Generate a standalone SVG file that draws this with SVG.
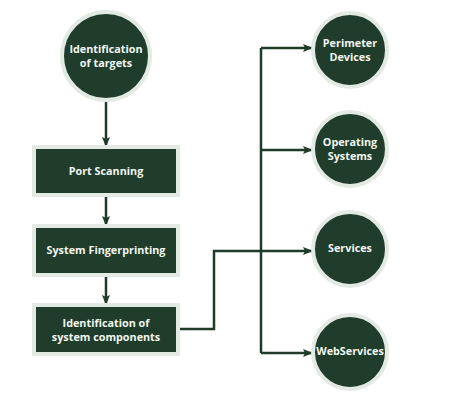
<svg xmlns="http://www.w3.org/2000/svg" width="474" height="403" viewBox="0 0 474 403">
<defs>
<marker id="ah" markerWidth="10" markerHeight="10" viewBox="0 0 10 10" refX="9" refY="5" orient="auto" markerUnits="userSpaceOnUse">
<path d="M0,1 L10,5 L0,9 L2,5 Z" fill="#1f3b29"/>
</marker>
<style>
.c{fill:#1f3d2a;stroke:#e3e9e3;stroke-width:4}
.b{fill:#1f3d2a;stroke:#e3e9e3;stroke-width:4}
.t{font-family:"Open Sans","Liberation Sans",sans-serif;font-weight:bold;font-size:10.8px;fill:#f2f5f0;text-anchor:middle}
.l{fill:none;stroke:#1f3b29;stroke-width:2.5}
</style>
</defs>
<rect width="474" height="403" fill="#ffffff"/>
<g id="connectors">
<path class="l" d="M106,100 V146" marker-end="url(#ah)"/>
<path class="l" d="M106,197 V225" marker-end="url(#ah)"/>
<path class="l" d="M106,276 V304" marker-end="url(#ah)"/>
<path class="l" d="M177,329 H214 V251 H261"/>
<path class="l" d="M261,48 V353"/>
<path class="l" d="M261,48 H312" marker-end="url(#ah)"/>
<path class="l" d="M261,150 H312" marker-end="url(#ah)"/>
<path class="l" d="M261,251 H312" marker-end="url(#ah)"/>
<path class="l" d="M261,353 H312" marker-end="url(#ah)"/>
</g>
<g id="n-targets">
<circle class="c" cx="106" cy="56" r="44"/>
<text class="t" x="106" y="53">Identification</text>
<text class="t" x="106" y="67">of targets</text>
</g>
<g id="n-port">
<rect class="b" x="34" y="147" width="144" height="48"/>
<text class="t" x="106" y="175">Port Scanning</text>
</g>
<g id="n-finger">
<rect class="b" x="34" y="226" width="144" height="49"/>
<text class="t" x="106" y="254">System Fingerprinting</text>
</g>
<g id="n-components">
<rect class="b" x="34" y="305" width="144" height="49"/>
<text class="t" x="106" y="327">Identification of</text>
<text class="t" x="106" y="341">system components</text>
</g>
<g id="n-perimeter">
<circle class="c" cx="350" cy="50" r="37"/>
<text class="t" x="350" y="47">Perimeter</text>
<text class="t" x="350" y="61">Devices</text>
</g>
<g id="n-os">
<circle class="c" cx="350" cy="149" r="37"/>
<text class="t" x="350" y="146">Operating</text>
<text class="t" x="350" y="160">Systems</text>
</g>
<g id="n-services">
<circle class="c" cx="350" cy="249" r="37"/>
<text class="t" x="350" y="252">Services</text>
</g>
<g id="n-web">
<circle class="c" cx="350" cy="352" r="37"/>
<text class="t" x="350" y="355">WebServices</text>
</g>
</svg>
